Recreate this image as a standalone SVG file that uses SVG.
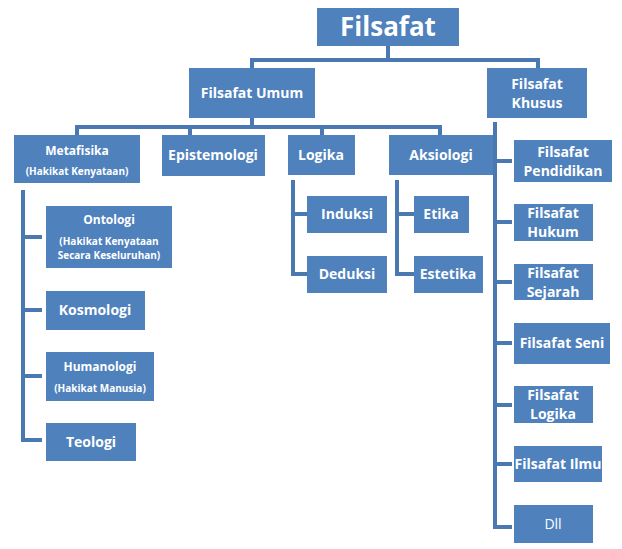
<svg xmlns="http://www.w3.org/2000/svg" width="622" height="549" viewBox="0 0 622 549">
<style>
rect{fill:#4F81BD}
text{fill:#fff;font-family:"Open Sans","Liberation Sans",sans-serif;font-weight:bold;font-size:14px;text-anchor:middle}
.s{font-size:10px}
.b{font-size:26px}
#c path{fill:none;stroke:#4A78B0;stroke-width:4}
</style>
<rect width="622" height="549" style="fill:#fff"/>
<g id="c">
<path d="M388 46V60M252 68V60H538V68"/>
<path d="M252 118V127M77 135V127H440V135M190 135V127M322 135V127"/>
<path d="M23 190V440H42M23 237H42M23 310H42M23 376H42"/>
<path d="M293 180V274H307M293 214H307"/>
<path d="M397 180V274H414M397 214H414"/>
<path d="M495 122V527H512M495 161H512M495 222H512M495 282H512M495 343H512M495 405H512M495 464H512"/>
</g>
<g id="n0"><rect x="317" y="8" width="142" height="38"/><text class="b" x="388" y="36">Filsafat</text></g>
<g id="n1"><rect x="189" y="68" width="126" height="50"/><text x="252" y="98">Filsafat Umum</text></g>
<g id="n2"><rect x="487" y="68" width="100" height="50"/><text x="537" y="89">Filsafat</text><text x="537" y="108">Khusus</text></g>
<g id="n3"><rect x="14" y="135" width="126" height="48"/><text x="77" y="155" style="font-size:12px">Metafisika</text><text class="s" x="77" y="175">(Hakikat Kenyataan)</text></g>
<g id="n4"><rect x="162" y="135" width="103" height="41"/><text x="213" y="160">Epistemologi</text></g>
<g id="n5"><rect x="288" y="135" width="67" height="40"/><text x="321" y="160">Logika</text></g>
<g id="n6"><rect x="389" y="135" width="104" height="40"/><text x="441" y="160">Aksiologi</text></g>
<g id="n7"><rect x="46" y="206" width="126" height="62"/><text x="109" y="224" style="font-size:12px">Ontologi</text><text class="s" x="109" y="245">(Hakikat Kenyataan</text><text class="s" x="109" y="259">Secara Keseluruhan)</text></g>
<g id="n8"><rect x="46" y="291" width="99" height="39"/><text x="95" y="315">Kosmologi</text></g>
<g id="n9"><rect x="46" y="352" width="108" height="49"/><text x="100" y="371" style="font-size:12px">Humanologi</text><text class="s" x="100" y="392">(Hakikat Manusia)</text></g>
<g id="n10"><rect x="46" y="423" width="90" height="38"/><text x="91" y="447">Teologi</text></g>
<g id="n11"><rect x="307" y="196" width="80" height="37"/><text x="347" y="219">Induksi</text></g>
<g id="n12"><rect x="307" y="256" width="80" height="37"/><text x="347" y="279">Deduksi</text></g>
<g id="n13"><rect x="414" y="196" width="55" height="37"/><text x="441" y="219">Etika</text></g>
<g id="n14"><rect x="414" y="256" width="69" height="37"/><text x="448" y="279">Estetika</text></g>
<g id="n15"><rect x="514" y="140" width="98" height="42"/><text x="563" y="157">Filsafat</text><text x="563" y="176">Pendidikan</text></g>
<g id="n16"><rect x="514" y="204" width="79" height="37"/><text x="553" y="218">Filsafat</text><text x="553" y="237">Hukum</text></g>
<g id="n17"><rect x="514" y="264" width="79" height="36"/><text x="553" y="278">Filsafat</text><text x="553" y="297">Sejarah</text></g>
<g id="n18"><rect x="514" y="323" width="96" height="41"/><text x="562" y="348">Filsafat Seni</text></g>
<g id="n19"><rect x="514" y="386" width="79" height="37"/><text x="553" y="400">Filsafat</text><text x="553" y="419">Logika</text></g>
<g id="n20"><rect x="514" y="446" width="88" height="36"/><text x="558" y="469">Filsafat Ilmu</text></g>
<g id="n21"><rect x="514" y="505" width="79" height="38"/><text x="553" y="529" style="font-weight:normal">Dll</text></g>
</svg>
